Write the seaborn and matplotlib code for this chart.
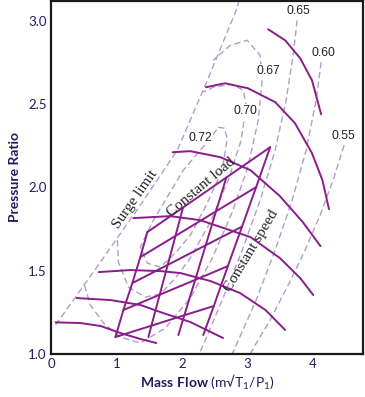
import numpy as np
import pandas as pd
import matplotlib
matplotlib.use("Agg")
import matplotlib.pyplot as plt
import seaborn as sns

sns.set_style("white")
plt.rcParams['font.family'] = ['Lato', 'DejaVu Sans']
plt.rcParams['mathtext.fontset'] = 'custom'
plt.rcParams['mathtext.rm'] = 'Lato'
plt.rcParams['mathtext.bf'] = 'Lato:bold'

PURPLE = '#8a1c8c'
LAVENDER = '#b39cc9'
NAVY = '#1f1c5e'

# compressor speed lines (mass flow, pressure ratio)
speed_names = ['S1', 'S2', 'S3', 'S4', 'S5', 'S6', 'S7']
speed_x = [
    [0.07, 0.45, 0.76, 1.06, 1.37, 1.61],
    [0.39, 0.91, 1.37, 1.67, 2.13, 2.63],
    [0.73, 1.21, 1.67, 1.98, 2.44, 2.89, 3.28, 3.58],
    [1.26, 1.82, 2.28, 3.05, 3.50, 3.81, 4.01],
    [1.86, 2.13, 2.59, 3.05, 3.50, 3.85, 4.12],
    [2.37, 2.66, 3.01, 3.43, 3.73, 3.99, 4.15, 4.25],
    [3.32, 3.58, 3.81, 3.99, 4.13],
]
speed_y = [
    [1.19, 1.186, 1.168, 1.126, 1.09, 1.066],
    [1.336, 1.324, 1.294, 1.252, 1.192, 1.096],
    [1.492, 1.504, 1.498, 1.486, 1.438, 1.366, 1.264, 1.144],
    [1.816, 1.828, 1.804, 1.702, 1.576, 1.456, 1.354],
    [2.212, 2.218, 2.182, 2.104, 1.948, 1.792, 1.648],
    [2.602, 2.626, 2.596, 2.512, 2.386, 2.206, 2.044, 1.870],
    [2.95, 2.884, 2.776, 2.644, 2.44],
]

# engine operating net: rows = constant load, columns = constant speed
net_x = [
    [0.985, 1.535, 2.039, 2.489],
    [1.107, 1.662, 2.204, 2.704],
    [1.244, 1.784, 2.365, 2.921],
    [1.366, 1.903, 2.523, 3.136],
    [1.473, 2.019, 2.681, 3.351],
]
net_y = [
    [1.102, 1.170, 1.233, 1.288],
    [1.264, 1.356, 1.445, 1.528],
    [1.426, 1.535, 1.653, 1.765],
    [1.582, 1.709, 1.857, 2.002],
    [1.732, 1.880, 2.060, 2.242],
]
base_x = [0.985, 1.489, 1.947, 2.328]
base_y = [1.102, 1.102, 1.114, 1.114]

# surge line and efficiency contours
surge_x = [0.069, 0.756, 1.366, 1.931, 2.359, 2.832, 2.87]
surge_y = [1.174, 1.552, 1.894, 2.224, 2.614, 3.064, 3.12]

eff_names = ['0.72', '0.70', '0.67', '0.65', '0.60', '0.55']
eff_x = [
    [2.557, 2.649, 2.695, 2.618, 2.374, 2.130, 1.901, 1.672, 1.473, 1.366, 1.550, 1.794, 2.023, 2.282, 2.466, 2.557],
    [1.015, 1.031, 1.183, 1.443, 1.672, 1.901, 2.130, 2.435, 2.710, 2.908, 2.985, 2.939, 2.771, 2.481, 2.328],
    [0.511, 0.603, 0.802, 1.061, 1.366, 1.748, 2.130, 2.466, 2.771, 3.015, 3.168, 3.229, 3.198, 2.999, 2.740, 2.481],
    [3.763, 3.702, 3.595, 3.427, 3.198, 2.924, 2.618, 2.328, 2.267],
    [4.130, 4.053, 3.901, 3.687, 3.427, 3.137, 2.832, 2.771],
    [4.481, 4.313, 4.115, 3.885, 3.626, 3.351, 3.122, 3.046],
]
eff_y = [
    [2.362, 2.356, 2.296, 2.104, 1.894, 1.714, 1.606, 1.522, 1.546, 1.642, 1.792, 1.954, 2.104, 2.224, 2.308, 2.362],
    [1.684, 1.552, 1.402, 1.342, 1.360, 1.456, 1.576, 1.792, 2.044, 2.284, 2.494, 2.584, 2.620, 2.602, 2.572],
    [1.414, 1.294, 1.186, 1.102, 1.066, 1.156, 1.336, 1.576, 1.852, 2.128, 2.404, 2.644, 2.794, 2.884, 2.854, 2.764],
    [3.004, 2.794, 2.524, 2.224, 1.924, 1.624, 1.324, 1.054, 1.000],
    [2.752, 2.524, 2.224, 1.924, 1.624, 1.324, 1.054, 1.000],
    [2.254, 2.044, 1.834, 1.624, 1.414, 1.204, 1.054, 1.000],
]
eff_label_x = [2.28, 2.97, 3.33, 3.78, 4.16, 4.47]
eff_label_y = [2.30, 2.458, 2.70, 3.058, 2.81, 2.31]


def long_df(names, xs, ys):
    rows = []
    for n, xx, yy in zip(names, xs, ys):
        for i, (a, b) in enumerate(zip(xx, yy)):
            rows.append({'curve': n, 'order': i, 'x': a, 'y': b})
    return pd.DataFrame(rows)


speed_df = long_df(speed_names, speed_x, speed_y)

load_names = [f'load{i}' for i in range(len(net_x))]
load_df = long_df(load_names, net_x, net_y)

col_names = [f'col{j}' for j in range(len(base_x))]
col_x = [[base_x[j]] + [row[j] for row in net_x] for j in range(len(base_x))]
col_y = [[base_y[j]] + [row[j] for row in net_y] for j in range(len(base_y))]
col_df = long_df(col_names, col_x, col_y)

dash_df = long_df(['surge'] + eff_names, [surge_x] + eff_x, [surge_y] + eff_y)

fig = plt.figure(figsize=(3.65, 3.97), dpi=100)
ax = fig.add_axes([0.1397, 0.1083, 0.8548, 0.8892])

sns.lineplot(data=dash_df, x='x', y='y', units='curve', estimator=None, sort=False,
             color=LAVENDER, lw=1.0, linestyle=(0, (4.5, 2.5)), legend=False, ax=ax)
for d in (speed_df, load_df, col_df):
    sns.lineplot(data=d, x='x', y='y', units='curve', estimator=None, sort=False,
                 color=PURPLE, lw=1.4, legend=False, ax=ax)

for t, lx, ly in zip(eff_names, eff_label_x, eff_label_y):
    ax.text(lx, ly, t, ha='center', va='center', fontsize=8.8, color='#222222',
            family=['Liberation Sans', 'DejaVu Sans'],
            bbox=dict(facecolor='white', edgecolor='none', pad=0.6))

serif = ['Liberation Serif', 'DejaVu Serif']
ax.text(1.29, 1.93, 'Surge limit', rotation=55, rotation_mode='anchor', ha='center', va='center',
        fontsize=11, family=serif, color='#222222')
ax.text(2.30, 2.00, 'Constant load', rotation=40, rotation_mode='anchor', ha='center', va='center',
        fontsize=11, family=serif, color='#222222')
ax.text(3.06, 1.62, 'Constant speed', rotation=59, rotation_mode='anchor', ha='center', va='center',
        fontsize=11, family=serif, color='#222222')

ax.set_xlim(0, 4.77)
ax.set_ylim(1.0, 3.12)
ax.set_xticks([0, 1, 2, 3, 4])
ax.set_yticks([1.0, 1.5, 2.0, 2.5, 3.0])
ax.set_yticklabels(['1.0', '1.5', '2.0', '2.5', '3.0'])
ax.tick_params(direction='in', length=6, width=1.6, color='#111111', labelcolor=NAVY,
               labelsize=9.5, pad=3)
for s in ax.spines.values():
    s.set_linewidth(1.6)
    s.set_color('#1a1a1a')

ax.set_xlabel(r'$\mathbf{Mass\ Flow}$ (m√T$_1$/P$_1$)', fontsize=10, color=NAVY, labelpad=2)
ax.set_ylabel('Pressure Ratio', fontsize=10, fontweight='bold', color=NAVY, labelpad=5)

fig.savefig('out.png', dpi=100)
